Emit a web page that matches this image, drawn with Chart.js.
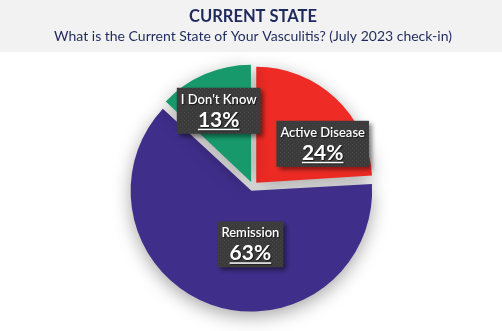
<!DOCTYPE html>
<html lang="en">
<head>
    <meta charset="UTF-8">
    <title>Current State</title>
    <style>
        body {
            margin: 0;
            background-color: #ffffff;
        }
        #wrap {
            position: relative;
            width: 502px;
            height: 331px;
        }
    </style>
</head>
<body>
    <div id="wrap"><canvas id="pie-chart"></canvas></div>

    <script src="https://cdn.jsdelivr.net/npm/chart.js"></script>
    <script>
        // dados
        const categories = ['Active Disease', 'Remission', "I Don't Know"];
        const values = [24, 63, 13];
        const sliceColors = ['#ee2b24', '#3f2f8b', '#17996c'];

        // ajuste fino da posicao das caixas (px, relativo ao centro da fatia)
        const labelShift = [[26, 4], [19, -2], [-9, -17]];

        const total = values.reduce((a, b) => a + b, 0);

        // textura pontilhada das caixas
        const dots = document.createElement('canvas');
        dots.width = 4;
        dots.height = 4;
        const dctx = dots.getContext('2d');
        dctx.fillStyle = '#3b3b3b';
        dctx.fillRect(0, 0, 4, 4);
        dctx.fillStyle = '#474747';
        dctx.fillRect(0, 0, 1, 1);
        dctx.fillRect(2, 2, 1, 1);

        const headerBand = {
            id: 'headerBand',
            beforeDraw(chart) {
                const ctx = chart.ctx;
                ctx.save();
                ctx.fillStyle = '#f2f2f2';
                ctx.fillRect(0, 0, chart.width, 52);
                ctx.restore();
            }
        };

        const sliceShadow = {
            id: 'sliceShadow',
            beforeDatasetsDraw(chart) {
                const ctx = chart.ctx;
                ctx.save();
                ctx.shadowColor = 'rgba(0, 0, 0, 0.35)';
                ctx.shadowBlur = 18;
                ctx.shadowOffsetX = 0;
                ctx.shadowOffsetY = 5;
            },
            afterDatasetsDraw(chart) {
                chart.ctx.restore();
            }
        };

        const boxLabels = {
            id: 'boxLabels',
            afterDraw(chart) {
                const ctx = chart.ctx;
                const meta = chart.getDatasetMeta(0);
                const pattern = ctx.createPattern(dots, 'repeat');
                meta.data.forEach((arc, i) => {
                    const mid = (arc.startAngle + arc.endAngle) / 2;
                    const r = arc.outerRadius * 0.55;
                    const cx = arc.x + Math.cos(mid) * r + labelShift[i][0];
                    const cy = arc.y + Math.sin(mid) * r + labelShift[i][1];
                    const name = categories[i];
                    const pct = Math.round(values[i] / total * 100) + '%';

                    ctx.save();
                    ctx.font = '600 13px Lato';
                    const w1 = ctx.measureText(name).width;
                    ctx.font = 'bold 21px Lato';
                    const w2 = ctx.measureText(pct).width;
                    const bw = Math.max(w1, w2) + 8;
                    const bh = 46;
                    const left = cx - bw / 2;
                    const top = cy - bh / 2;

                    ctx.shadowColor = 'rgba(0, 0, 0, 0.45)';
                    ctx.shadowBlur = 4;
                    ctx.shadowOffsetX = 3;
                    ctx.shadowOffsetY = 3;
                    ctx.fillStyle = pattern;
                    ctx.fillRect(left, top, bw, bh);

                    ctx.shadowColor = 'rgba(0, 0, 0, 0.6)';
                    ctx.shadowBlur = 1;
                    ctx.shadowOffsetX = 1;
                    ctx.shadowOffsetY = 1;
                    ctx.fillStyle = '#ffffff';
                    ctx.textAlign = 'center';
                    ctx.textBaseline = 'alphabetic';
                    ctx.font = '600 13px Lato';
                    ctx.fillText(name, cx, top + 16);
                    ctx.font = 'bold 21px Lato';
                    ctx.fillText(pct, cx, top + 39);
                    ctx.fillRect(cx - w2 / 2, top + 41, w2, 1.5);
                    ctx.restore();
                });
            }
        };

        const data = {
            labels: categories,
            datasets: [{
                data: values,
                backgroundColor: sliceColors,
                borderWidth: 0,
                // o ArcElement desloca offset/4 px
                offset: 19,
                hoverOffset: 0
            }]
        };

        const config = {
            type: 'pie',
            data: data,
            options: {
                responsive: true,
                maintainAspectRatio: false,
                animation: false,
                radius: 116,
                layout: {
                    padding: { left: 4, right: 0, top: 0, bottom: 9 }
                },
                events: [],
                plugins: {
                    legend: { display: false },
                    tooltip: { enabled: false },
                    title: {
                        display: true,
                        text: 'CURRENT STATE',
                        color: '#1f2a5c',
                        font: { family: 'Lato', size: 16.5, weight: 'bold' },
                        padding: { top: 7, bottom: 1 }
                    },
                    subtitle: {
                        display: true,
                        text: 'What is the Current State of Your Vasculitis? (July 2023 check-in)',
                        color: '#1f2a5c',
                        font: { family: 'Lato', size: 14 },
                        padding: { top: 0, bottom: 6 }
                    }
                }
            },
            plugins: [headerBand, sliceShadow, boxLabels]
        };

        const pieChart = new Chart(document.getElementById('pie-chart'), config);
    </script>
</body>
</html>
